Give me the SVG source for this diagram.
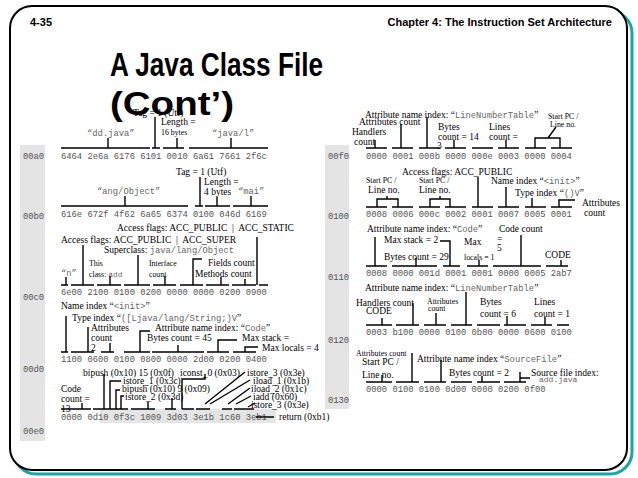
<svg xmlns="http://www.w3.org/2000/svg" width="638" height="478" viewBox="0 0 638 478">
<style>
.s{font-family:"Liberation Serif",serif;font-size:9.5px;fill:#000}
.ss{font-family:"Liberation Serif",serif;font-size:7.8px;fill:#000}
.m{font-family:"Liberation Mono",monospace;font-size:8.8px;fill:#555}
.ml{font-family:"Liberation Mono",monospace;font-size:8.8px;fill:#666}
.ad{font-family:"Liberation Mono",monospace;font-size:8.8px;fill:#555}
.c path{fill:none;stroke:#000;stroke-width:1.4}
</style>
<rect x="14" y="11" width="618" height="463" rx="22" fill="none" stroke="#1aa6a6" stroke-width="3"/>
<rect x="10" y="6" width="617" height="464" rx="22" fill="#fff" stroke="#000" stroke-width="2"/>
<g id="header">
<text x="30" y="26" style="font-family:'Liberation Sans',sans-serif;font-size:11px;font-weight:bold">4-35</text>
<text x="612" y="26" text-anchor="end" style="font-family:'Liberation Sans',sans-serif;font-size:11px;font-weight:bold">Chapter 4: The Instruction Set Architecture</text>
<text x="110" y="76" textLength="213" lengthAdjust="spacingAndGlyphs" style="font-family:'Liberation Sans',sans-serif;font-size:34px;font-weight:bold">A Java Class File</text>
<text x="110" y="115" textLength="124" lengthAdjust="spacingAndGlyphs" style="font-family:'Liberation Sans',sans-serif;font-size:34px;font-weight:bold">(Cont’)</text>
</g>
<rect x="20" y="145" width="25" height="296" fill="#e4e4e4"/>
<rect x="325" y="145" width="24" height="264" fill="#e4e4e4"/>
<rect x="100" y="409" width="176" height="14" fill="#e4e4e4"/>
<g id="addresses">
<text class="ad" x="23" y="159">00a0</text><text class="ad" x="23" y="219">00b0</text><text class="ad" x="23" y="300">00c0</text><text class="ad" x="23" y="372">00d0</text><text class="ad" x="23" y="434">00e0</text>
<text class="ad" x="328" y="159">00f0</text><text class="ad" x="328" y="219">0100</text><text class="ad" x="328" y="280">0110</text><text class="ad" x="328" y="343">0120</text><text class="ad" x="328" y="403">0130</text>
</g>
<g id="hex">
<text class="m" x="61" y="159">6464 2e6a 6176 6101 0010 6a61 7661 2f6c</text>
<text class="m" x="61" y="217">616e 672f 4f62 6a65 6374 0100 046d 6169</text>
<text class="m" x="61" y="295">6e00 2100 0100 0200 0000 0000 0200 0900</text>
<text class="m" x="61" y="362">1100 0600 0100 0800 0000 2d00 0200 0400</text>
<text class="m" x="61" y="420">0000 0d10 0f3c 1009 3d03 3e1b 1c60 3eb1</text>
<text class="m" x="366" y="159">0000 0001 000b 0000 000e 0003 0000 0004</text>
<text class="m" x="366" y="217">0008 0006 000c 0002 0001 0007 0005 0001</text>
<text class="m" x="366" y="276">0008 0000 001d 0001 0001 0000 0005 2ab7</text>
<text class="m" x="366" y="335">0003 b100 0000 0100 0b00 0000 0600 0100</text>
<text class="m" x="366" y="392">0000 0100 0100 0d00 0000 0200 0f00</text>
</g>
<g id="labels-left">
<text class="s" x="133" y="116">Tag = 1 (Utf)</text>
<text class="s" x="161" y="125">Length =</text><text class="ss" x="161" y="135">16 bytes</text>
<text class="ml" x="87" y="136">“dd.java”</text><text class="ml" x="212" y="136">“java/l”</text>
<text class="s" x="176" y="175">Tag = 1 (Utf)</text>
<text class="s" x="204" y="185">Length =</text><text class="s" x="204" y="195">4 bytes</text>
<text class="ml" x="97" y="194">“ang/Object”</text><text class="ml" x="238" y="194">“mai”</text>
<text class="s" x="117" y="231" xml:space="preserve">Access flags: ACC_PUBLIC  |  ACC_STATIC</text>
<text class="s" x="61" y="243" xml:space="preserve">Access flags: ACC_PUBLIC  |  ACC_SUPER</text>
<text class="s" x="104" y="253">Superclass: <tspan class="ml">java/lang/Object</tspan></text>
<text class="ml" x="61" y="276">“n”</text>
<text class="ss" x="89" y="266">This</text><text class="ss" x="89" y="277">class: <tspan style="font-family:'Liberation Mono',monospace;fill:#666">add</tspan></text>
<text class="ss" x="149" y="266">Interface</text><text class="ss" x="149" y="277">count</text>
<text class="s" x="208" y="266">Fields count</text><text class="s" x="195" y="277">Methods count</text>
<text class="s" x="61" y="309">Name index “<tspan class="ml">&lt;init&gt;</tspan>”</text>
<text class="s" x="72" y="321">Type index “<tspan class="ml">([Ljava/lang/String;)V</tspan>”</text>
<text class="s" x="91" y="331">Attributes</text><text class="s" x="91" y="341">count</text><text class="s" x="91" y="351">2</text>
<text class="s" x="155" y="331">Attribute name index: “<tspan class="ml">Code</tspan>”</text>
<text class="s" x="147" y="341">Bytes count = 45</text>
<text class="s" x="242" y="341">Max stack =</text>
<text class="s" x="262" y="351">Max locals = 4</text>
<text class="s" x="83" y="376">bipush (0x10) 15 (0x0f)</text>
<text class="s" x="180" y="376">iconst_0 (0x03)</text>
<text class="s" x="123" y="384">istore_1 (0x3c)</text>
<text class="s" x="122" y="392">bipush (0x10) 9 (0x09)</text>
<text class="s" x="125" y="400">istore_2 (0x3d)</text>
<text class="s" x="61" y="392">Code</text><text class="s" x="61" y="402">count =</text><text class="s" x="61" y="412">13</text>
<text class="s" x="247" y="376">istore_3 (0x3e)</text>
<text class="s" x="253" y="384">iload_1 (0x1b)</text>
<text class="s" x="251" y="392">iload_2 (0x1c)</text>
<text class="s" x="253" y="400">iadd (0x60)</text>
<text class="s" x="251" y="408">istore_3 (0x3e)</text>
<text class="s" x="279" y="420">return (0xb1)</text>
</g>
<g id="labels-right">
<text class="s" x="365" y="118">Attribute name index: “<tspan class="ml">LineNumberTable</tspan>”</text>
<text class="s" x="359" y="125">Attributes count</text>
<text class="s" x="352" y="135">Handlers</text><text class="s" x="354" y="145">count</text>
<text class="s" x="438" y="130">Bytes</text><text class="s" x="438" y="140">count = 14</text><text class="s" x="437" y="149">3</text>
<text class="s" x="489" y="130">Lines</text><text class="s" x="489" y="140">count =</text>
<text class="ss" x="548" y="119">Start PC /</text><text class="ss" x="550" y="127">Line no.</text>
<text class="s" x="402" y="175">Access flags: ACC_PUBLIC</text>
<text class="ss" x="366" y="183">Start PC /</text><text class="s" x="368" y="193">Line no.</text>
<text class="ss" x="419" y="183">Start PC /</text><text class="s" x="419" y="193">Line no.</text>
<text class="s" x="491" y="184">Name index “<tspan class="ml">&lt;init&gt;</tspan>”</text>
<text class="s" x="515" y="196">Type index “<tspan class="ml">()V</tspan>”</text>
<text class="s" x="582" y="206">Attributes</text><text class="s" x="584" y="216">count</text>
<text class="s" x="367" y="232">Attribute name index: “<tspan class="ml">Code</tspan>”</text>
<text class="s" x="499" y="232">Code count</text><text class="s" x="497" y="242">=</text><text class="s" x="497" y="251">5</text>
<text class="s" x="384" y="243">Max stack = 2</text><text class="s" x="464" y="245">Max</text>
<text class="s" x="384" y="260">Bytes count = 29</text><text class="ss" x="464" y="260">locals = 1</text>
<text class="s" x="545" y="258">CODE</text>
<text class="s" x="365" y="291">Attribute name index: “<tspan class="ml">LineNumberTable</tspan>”</text>
<text class="s" x="356" y="306">Handlers count</text><text class="s" x="366" y="314">CODE</text>
<text class="ss" x="427" y="304">Attributes</text><text class="ss" x="428" y="311">count</text>
<text class="s" x="480" y="305">Bytes</text><text class="s" x="480" y="317">count = 6</text>
<text class="s" x="534" y="305">Lines</text><text class="s" x="534" y="317">count = 1</text>
<text class="ss" x="356" y="356">Attributes count</text>
<text class="s" x="362" y="365">Start PC /</text><text class="s" x="362" y="378">Line no.</text>
<text class="s" x="417" y="362">Attribute name index “<tspan class="ml">SourceFile</tspan>”</text>
<text class="s" x="449" y="376">Bytes count = 2</text>
<text class="s" x="531" y="376">Source file index:</text>
<text class="ml" x="539" y="382" style="font-size:8px">add.java</text>
</g>
<g id="connectors" class="c">
<path d="M61 148H150M152 148H160M163 148H184M189 148H268M108 138V148M155 117V148M177 138V148M231 138V148"/>
<path d="M61 206H188M195 206H203M205 206H230M233 206H268M125 196V206M200 177V206M217 197V206M251 196V206"/>
<path d="M61 285H68M71 285H94M97 285H121M124 285H150M153 285H176M180 285H203M206 285H229M232 285H256M259 285H268M66 277V285M83 245V285M110 276V285M138 255V285M165 276V285M193 285V259H202M221 277V285M257 237V285M245 285V279"/>
<path d="M61 352H68M71 352H94M101 352H114M124 352H150M152 352H204M207 352H229M233 352H256M66 316V352M88 327V352M110 343V352M140 352V331H150M178 345V352M218 352V340H237M245 352V347H258"/>
<path d="M61 409H91M93 409H128M131 409H155M165 409H176M182 409H194M196 409H210M222 409H232M234 409H254M82 403V409M104 374V409M110 409V381H121M116 409V390H120M121 409V396H124M148 402V409M172 398V409M182 409V379H205V374M205 404L245 372M210 404L250 380M228 404L250 388M236 404L251 396M248 407L255 403M256 417H274"/>
<path d="M366 148H387M392 148H413M419 148H440M445 148H466M472 148H493M498 148H519M525 148H546M551 148H572M375 140V148M401 124V148M427 117V148M454 140V148M506 140V148M535 148V138H560V148M548 138L556 127"/>
<path d="M366 207H387M392 207H413M419 207H440M445 207H466M472 207H493M498 207H519M525 207H546M551 207H572M377 207V199H398V207M387 199V196M430 207V199H450V207M440 199V196M478 177V207M506 187V207M532 198V207M559 207V200H575"/>
<path d="M366 266H387M392 266H437M443 266H460M467 266H488M493 266H541M546 266H568M375 237V266M416 258V266M450 266V241H440M479 260V266M521 235V266M561 260V266"/>
<path d="M366 325H392M396 325H419M424 325H446M451 325H472M477 325H500M504 325H526M531 325H552M557 325H569M382 318V325M413 303V325M436 313V325M466 292V325M507 316V325M545 317V325"/>
<path d="M366 382H392M396 382H419M424 382H446M451 382H472M477 382H500M504 382H526M382 375V382M412 353V382M441 360V382M482 376V382M520 382V372M520 378H530"/>
</g>
</svg>
